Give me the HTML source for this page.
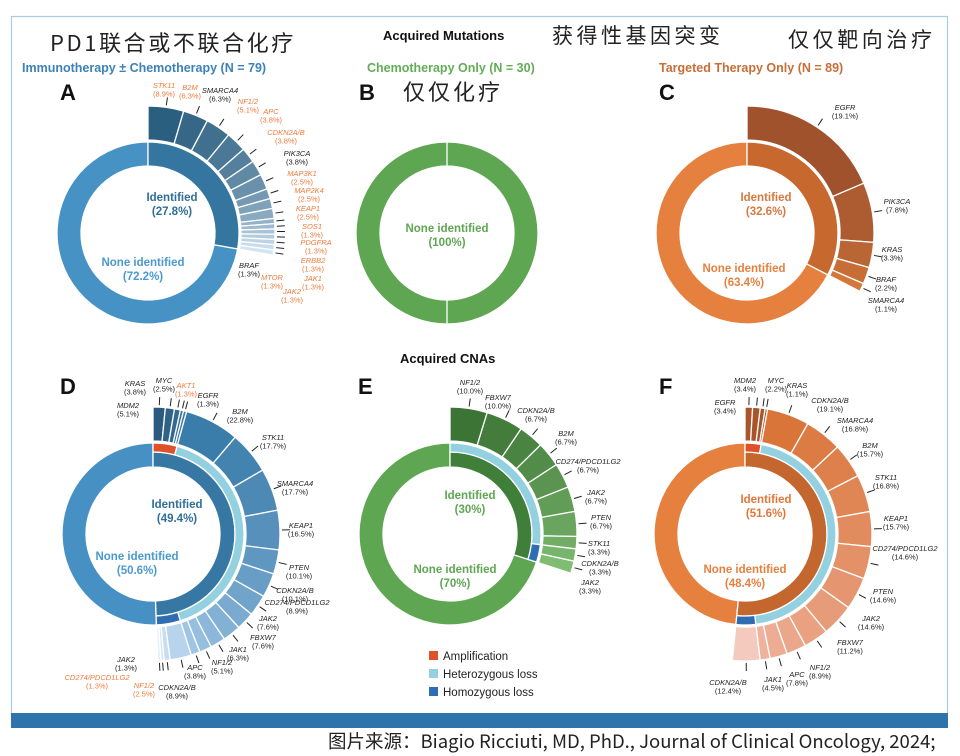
<!DOCTYPE html>
<html><head><meta charset="utf-8">
<style>
html,body{margin:0;padding:0;background:#fff;}
svg{display:block;}
text{font-family:"Liberation Sans","Noto Sans CJK SC",sans-serif;}
.cjk{font-family:"Noto Sans CJK SC","WenQuanYi Zen Hei",sans-serif;}
.lab{font-size:7.5px;font-style:italic;}
.pct{font-size:7.5px;}
</style></head>
<body>
<svg id="fig" width="960" height="756" viewBox="0 0 960 756" xmlns="http://www.w3.org/2000/svg">
<rect x="11.5" y="16.5" width="936" height="700" fill="none" stroke="#a9cbe6" stroke-width="1.2"/>
<rect x="11" y="713" width="937" height="15" fill="#2e74ab"/>
<text x="328" y="748" font-size="18.5" class="cjk" fill="#222">图片来源：Biagio Ricciuti, MD, PhD., Journal of Clinical Oncology, 2024;</text>

<text x="50" y="51" font-size="22" class="cjk" fill="#222" letter-spacing="2.6">PD1联合或不联合化疗</text>
<text x="383" y="40" font-size="13" font-weight="bold" fill="#111">Acquired Mutations</text>
<text x="552" y="43" font-size="21" class="cjk" fill="#222" letter-spacing="3.5">获得性基因突变</text>
<text x="788" y="47" font-size="21" class="cjk" fill="#222" letter-spacing="3.6">仅仅靶向治疗</text>
<text x="22" y="72" font-size="12.5" font-weight="bold" fill="#3c82b8">Immunotherapy ± Chemotherapy (N = 79)</text>
<text x="367" y="72" font-size="12.5" font-weight="bold" fill="#62ad55">Chemotherapy Only (N = 30)</text>
<text x="659" y="72" font-size="12.5" font-weight="bold" fill="#c76e36">Targeted Therapy Only (N = 89)</text>
<text x="403" y="100" font-size="22" class="cjk" fill="#222" letter-spacing="3">仅仅化疗</text>
<text x="400" y="363" font-size="13" font-weight="bold" fill="#111">Acquired CNAs</text>

<g font-size="22" font-weight="bold" fill="#111">
<text x="60" y="100">A</text>
<text x="359" y="100">B</text>
<text x="659" y="100">C</text>
<text x="60" y="394">D</text>
<text x="358" y="394">E</text>
<text x="659" y="394">F</text>
</g>

<g>
<rect x="429" y="651" width="9" height="9" fill="#e0502a"/>
<text x="443" y="660" font-size="11.5" fill="#222">Amplification</text>
<rect x="429" y="669" width="9" height="9" fill="#93d0e0"/>
<text x="443" y="678" font-size="11.5" fill="#222">Heterozygous loss</text>
<rect x="429" y="687" width="9" height="9" fill="#2f6db3"/>
<text x="443" y="696" font-size="11.5" fill="#222">Homozygous loss</text>
</g>
<g id="charts"></g>
</svg>
<script>
// ---------- data ----------
const aIdentified = 27.8, aNone = 72.2;
const aGenes = ["STK11","B2M","SMARCA4","NF1/2","APC","CDKN2A/B","PIK3CA","MAP3K1","MAP2K4","KEAP1","SOS1","PDGFRA","ERBB2","JAK1","JAK2","MTOR","BRAF"];
const aPcts  = [8.9,6.3,6.3,5.1,3.8,3.8,3.8,2.5,2.5,2.5,1.3,1.3,1.3,1.3,1.3,1.3,1.3];
const bIdentified = 0, bNone = 100;
const cIdentified = 32.6, cNone = 63.4;
const cGenes = ["EGFR","PIK3CA","KRAS","BRAF","SMARCA4"];
const cPcts  = [19.1,7.8,3.3,2.2,1.1];
const dIdentified = 49.4, dNone = 50.6;
const dGenes = ["MDM2","KRAS","MYC","AKT1","EGFR","B2M","STK11","SMARCA4","KEAP1","PTEN","CDKN2A/B","CD274/PDCD1LG2","JAK2","FBXW7","JAK1","NF1/2","APC","CDKN2A/B","NF1/2","CD274/PDCD1LG2","JAK2"];
const dPcts  = [5.1,3.8,2.5,1.3,1.3,22.8,17.7,17.7,16.5,10.1,10.1,8.9,7.6,7.6,6.3,5.1,3.8,8.9,2.5,1.3,1.3];
const dTypes = ["amp","amp","amp","amp","amp","het","het","het","het","het","het","het","het","het","het","het","het","hom","hom","hom","hom"];
const eIdentified = 30, eNone = 70;
const eGenes = ["NF1/2","FBXW7","CDKN2A/B","B2M","CD274/PDCD1LG2","JAK2","PTEN","STK11","CDKN2A/B","JAK2"];
const ePcts  = [10.0,10.0,6.7,6.7,6.7,6.7,6.7,3.3,3.3,3.3];
const eTypes = ["het","het","het","het","het","het","het","het","hom","hom"];
const fIdentified = 51.6, fNone = 48.4;
const fGenes = ["EGFR","MDM2","MYC","KRAS","CDKN2A/B","SMARCA4","B2M","STK11","KEAP1","CD274/PDCD1LG2","PTEN","JAK2","FBXW7","NF1/2","APC","JAK1","CDKN2A/B"];
const fPcts  = [3.4,3.4,2.2,1.1,19.1,16.8,15.7,16.8,15.7,14.6,14.6,14.6,11.2,8.9,7.8,4.5,12.4];
const fTypes = ["amp","amp","amp","amp","het","het","het","het","het","het","het","het","het","het","het","het","hom"];

// ---------- layout (not data) ----------
const aLabelPos=[[164,88],[190,90],[220,93],[248,104],[271,114],[286,135],[297,156],[302,176],[309,193],[308,211],[312,229],[316,245],[313,263],[313,281],[292,294],[272,280],[249,268]];
const aHot=[1,1,0,1,1,1,0,1,1,1,1,1,1,1,1,1,0];
const cLabelPos=[[845,110],[897,204],[892,252],[886,282],[886,303]];
const dLabelPos=[[128,408],[135,386],[164,383],[186,388],[208,398],[240,414],[273,440],[295,486],[301,528],[299,570],[295,593],[297,605],[268,621],[263,640],[238,652],[222,665],[195,670],[177,690],[144,688],[97,680],[126,662]];
const dHot=[0,0,0,1,0,0,0,0,0,0,0,0,0,0,0,0,0,0,1,1,0];
const eLabelPos=[[470,385],[498,400],[536,413],[566,436],[588,464],[596,495],[601,520],[599,546],[600,566],[590,585]];
const fLabelPos=[[725,405],[745,383],[776,383],[797,388],[830,403],[855,423],[870,448],[886,480],[896,521],[905,551],[883,594],[871,621],[850,645],[820,670],[797,677],[773,682],[728,685]];

const NS="http://www.w3.org/2000/svg";
const root=document.getElementById('charts');
function P(cx,cy,r,a){const t=a*Math.PI/180;return [cx+r*Math.sin(t),cy-r*Math.cos(t)];}
function arcPath(cx,cy,r0,r1,a0,a1){
  const big=(a1-a0)>180?1:0;
  const p1=P(cx,cy,r1,a0),p2=P(cx,cy,r1,a1),p3=P(cx,cy,r0,a1),p4=P(cx,cy,r0,a0);
  return `M${p1[0]},${p1[1]}A${r1},${r1} 0 ${big} 1 ${p2[0]},${p2[1]}L${p3[0]},${p3[1]}A${r0},${r0} 0 ${big} 0 ${p4[0]},${p4[1]}Z`;
}
function mk(tag,attrs,parent){const e=document.createElementNS(NS,tag);for(const k in attrs)e.setAttribute(k,attrs[k]);(parent||root).appendChild(e);return e;}
function sector(g,cx,cy,r0,r1,a0,a1,fill,name){
  let d;
  if(a1-a0>=359.99){d=arcPath(cx,cy,r0,r1,0,180)+arcPath(cx,cy,r0,r1,180,360);}
  else d=arcPath(cx,cy,r0,r1,a0,a1);
  const e=mk('path',{d:d,fill:fill,stroke:'#fff','stroke-width':1.3},g);
  
  
  return e;
}
function mix(c1,c2,t){const h=s=>[1,3,5].map(i=>parseInt(s.substr(i,2),16));const a=h(c1),b=h(c2);return 'rgb('+a.map((v,i)=>Math.round(v+(b[i]-v)*t)).join(',')+')';}
function label(g,x,y,name,pct,color,key){
  const t=mk('text',{x:x,y:y,'text-anchor':'middle',fill:color,class:'lab'},g);
  t.textContent=name;
  
  
  const t2=mk('text',{x:x,y:y+8.5,'text-anchor':'middle',fill:color,class:'pct'},g);
  t2.textContent='('+pct.toFixed(1)+'%)';
  
  
}
function center(g,x,y,l1,l2,color,key){
  const t=mk('text',{x:x,y:y,'text-anchor':'middle','font-size':11.5,'font-weight':'bold',fill:color},g);
  t.textContent=l1;
  
  
  const t2=mk('text',{x:x,y:y+14,'text-anchor':'middle','font-size':11.5,'font-weight':'bold',fill:color},g);
  t2.textContent=l2;
  
  
}
function fmtP(v){return Number.isInteger(v)? String(v) : v.toFixed(1);}

function drawPanel(cfg){
  const g=mk('g',{});
  
  
  const cx=cfg.cx,cy=cfg.cy,R=91,r0=67,W0=93,W1=127;
  const idA=cfg.identified/100*360;
  if(idA<360) sector(g,cx,cy,r0,R,idA,360,cfg.noneColor,'none-identified-ring');
  if(idA>0){
    if(cfg.types) sector(g,cx,cy,r0,R-9,0,idA,cfg.idColor,'identified-ring');
    else sector(g,cx,cy,r0,R,0,idA,cfg.idColor,'identified-ring');
  }
  if(cfg.genes){
    const total=cfg.pcts.reduce((s,v)=>s+v,0);
    let acc=0;
    const typeSpans={};
    cfg.genes.forEach((gn,i)=>{
      const a0=acc/total*idA; acc+=cfg.pcts[i]; const a1=acc/total*idA;
      const col=cfg.color(i,cfg.genes.length,cfg.types?cfg.types[i]:null);
      sector(g,cx,cy,W0,W1,a0,a1,col,'wedge-'+gn.toLowerCase().replace(/[^a-z0-9]+/g,'-'));
      if(cfg.types){const t=cfg.types[i];if(!typeSpans[t])typeSpans[t]=[a0,a1];else typeSpans[t][1]=a1;}
      const m=(a0+a1)/2;const p1=P(cx,cy,W1+2,m),p2=P(cx,cy,W1+10,m);
      const ln=mk('line',{x1:p1[0],y1:p1[1],x2:p2[0],y2:p2[1],stroke:'#222','stroke-width':1},g);
      
      
      const lp=cfg.labelPos[i];
      label(g,lp[0],lp[1],gn,cfg.pcts[i],(cfg.hot&&cfg.hot[i])?'#ee7a3a':'#222',gn.toLowerCase().replace(/[^a-z0-9]+/g,'-'));
    });
    if(cfg.types){
      const tc={amp:'#e0502a',het:'#93d0e0',hom:'#2f6db3'};
      for(const t in typeSpans) sector(g,cx,cy,R-9,R,typeSpans[t][0],typeSpans[t][1],tc[t],'cna-type-band-'+t);
    }
  }
  if(idA>0) center(g,cfg.idText[0],cfg.idText[1],'Identified','('+fmtP(cfg.identified)+'%)',cfg.idTextColor,'identified');
  if(idA<360) center(g,cfg.noneText[0],cfg.noneText[1],'None identified','('+fmtP(cfg.none)+'%)',cfg.noneTextColor,'none-identified');
}

drawPanel({id:'a',cx:148,cy:233,identified:aIdentified,none:aNone,noneColor:'#4692c5',idColor:'#34769f',genes:aGenes,pcts:aPcts,labelPos:aLabelPos,hot:aHot,
  color:(i,n)=>mix('#2b5f80','#d3e4f3',i/(n-1)),idText:[172,201],idTextColor:'#2f6e98',noneText:[143,266],noneTextColor:'#4a9acf'});
drawPanel({id:'b',cx:447,cy:233,identified:bIdentified,none:bNone,noneColor:'#5fa653',idColor:'#3f7f3a',idText:[0,0],idTextColor:'#5fa653',noneText:[447,232],noneTextColor:'#5fa653'});
drawPanel({id:'c',cx:747,cy:233,identified:cIdentified,none:cNone,noneColor:'#e6803f',idColor:'#c7682f',genes:cGenes,pcts:cPcts,labelPos:cLabelPos,
  color:(i,n)=>mix('#a0522d','#d4773a',i/(n-1)),idText:[766,201],idTextColor:'#d9783f',noneText:[744,272],noneTextColor:'#e6803f'});
drawPanel({id:'d',cx:153,cy:534,identified:dIdentified,none:dNone,noneColor:'#4690c3',idColor:'#3677a3',genes:dGenes,pcts:dPcts,types:dTypes,labelPos:dLabelPos,hot:dHot,
  color:(i,n,t)=>t==='amp'?mix('#2a5a7d','#3e7aa6',i/4):(t==='het'?mix('#3a7dab','#9fc4e4',(i-5)/11):mix('#b8d3ec','#e6f0f9',(i-17)/3)),
  idText:[177,508],idTextColor:'#2f6e98',noneText:[137,560],noneTextColor:'#4a9acf'});
drawPanel({id:'e',cx:450,cy:534,identified:eIdentified,none:eNone,noneColor:'#5fa653',idColor:'#3f7f3a',genes:eGenes,pcts:ePcts,types:eTypes,labelPos:eLabelPos,
  color:(i,n)=>mix('#3b7434','#80bd73',i/(n-1)),idText:[470,499],idTextColor:'#5fa653',noneText:[455,573],noneTextColor:'#5fa653'});
drawPanel({id:'f',cx:745,cy:534,identified:fIdentified,none:fNone,noneColor:'#e6803f',idColor:'#c4672f',genes:fGenes,pcts:fPcts,types:fTypes,labelPos:fLabelPos,
  color:(i,n,t)=>t==='amp'?'#a9542a':(t==='het'?mix('#da753a','#efb29d',(i-4)/11):'#f4cabe'),
  idText:[766,503],idTextColor:'#e0773a',noneText:[745,573],noneTextColor:'#e6803f'});
</script>
</body></html>
